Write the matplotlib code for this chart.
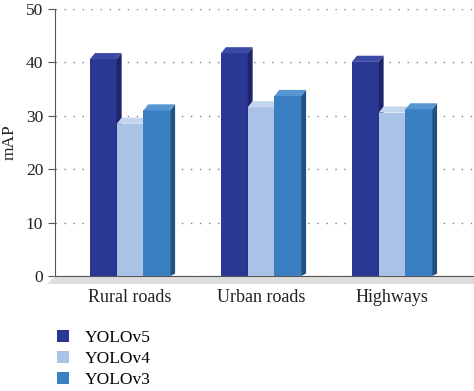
import numpy as np
import matplotlib
matplotlib.use("Agg")
from matplotlib import pyplot as plt
from matplotlib.patches import Polygon

# data
categories = ["Rural roads", "Urban roads", "Highways"]
models = ["YOLOv5", "YOLOv4", "YOLOv3"]
yolov5 = [40.6, 41.7, 40.1]
yolov4 = [28.5, 31.6, 30.6]
yolov3 = [31.0, 33.7, 31.2]

front = ["#2a3894", "#a9c2e6", "#3a7fc2"]
top = ["#3c4aa6", "#c4d6ef", "#5796d2"]
side = ["#1d2568", "#8fa9d0", "#1f5283"]

plt.rcParams['font.family'] = ['Liberation Serif', 'DejaVu Serif']

fig = plt.figure(figsize=(4.74, 3.91), dpi=100)
ax = fig.add_axes([0.116, 0.294, 0.884, 0.683])

x = np.arange(len(categories))
w = 0.204
dx, dy = 0.038, 1.15  # fake 3d depth

series = [yolov5, yolov4, yolov3]
handles = []
z = 3
for i, vals in enumerate(series):
    pos = x + (i - 1) * w
    bars = ax.bar(pos, vals, w, color=front[i], zorder=z, label=models[i])
    handles.append(bars)
    for b in bars:
        x0 = b.get_x()
        x1 = x0 + b.get_width()
        h = b.get_height()
        ax.add_patch(Polygon([(x1, 0), (x1 + dx, dy * 0.4), (x1 + dx, h + dy), (x1, h)],
                             closed=True, color=side[i], zorder=z, lw=0))
        ax.add_patch(Polygon([(x0, h), (x0 + dx, h + dy), (x1 + dx, h + dy), (x1, h)],
                             closed=True, color=top[i], zorder=z, lw=0))
    z += 1

# gray floor under the axis
floor = Polygon([(0, 0), (1, 0), (1.0, -0.03), (-0.02, -0.03)], closed=True,
                transform=ax.transAxes, color="#dedede", clip_on=False, zorder=1, lw=0)
ax.add_patch(floor)

ax.set_xlim(-0.573, 2.626)
ax.set_ylim(0, 50)
ax.set_yticks([0, 10, 20, 30, 40, 50])
ax.set_xticks(x)
ax.set_xticklabels(categories, fontsize=13, color="#222222")
ax.tick_params(axis='x', length=0, pad=9)
ax.tick_params(axis='y', labelsize=12.5, labelcolor="#222222", length=5, color="#555555")
ax.set_ylabel("mAP", fontsize=12.5, color="#222222", labelpad=6)

ax.yaxis.grid(True, linestyle=(0, (1, 5.5)), color="#808080", lw=1)
ax.set_axisbelow(True)
for s in ["top", "right"]:
    ax.spines[s].set_visible(False)
ax.spines["left"].set_color("#555555")
ax.spines["bottom"].set_color("#555555")
ax.spines["left"].set_zorder(10)

fig.legend(handles=handles, labels=models, loc="upper left", bbox_to_anchor=(0.105, 0.175),
           frameon=False, fontsize=12.5, handlelength=0.7, handleheight=0.7,
           labelspacing=0.3, handletextpad=0.9, borderaxespad=0)

plt.savefig("out.png", dpi=100)
